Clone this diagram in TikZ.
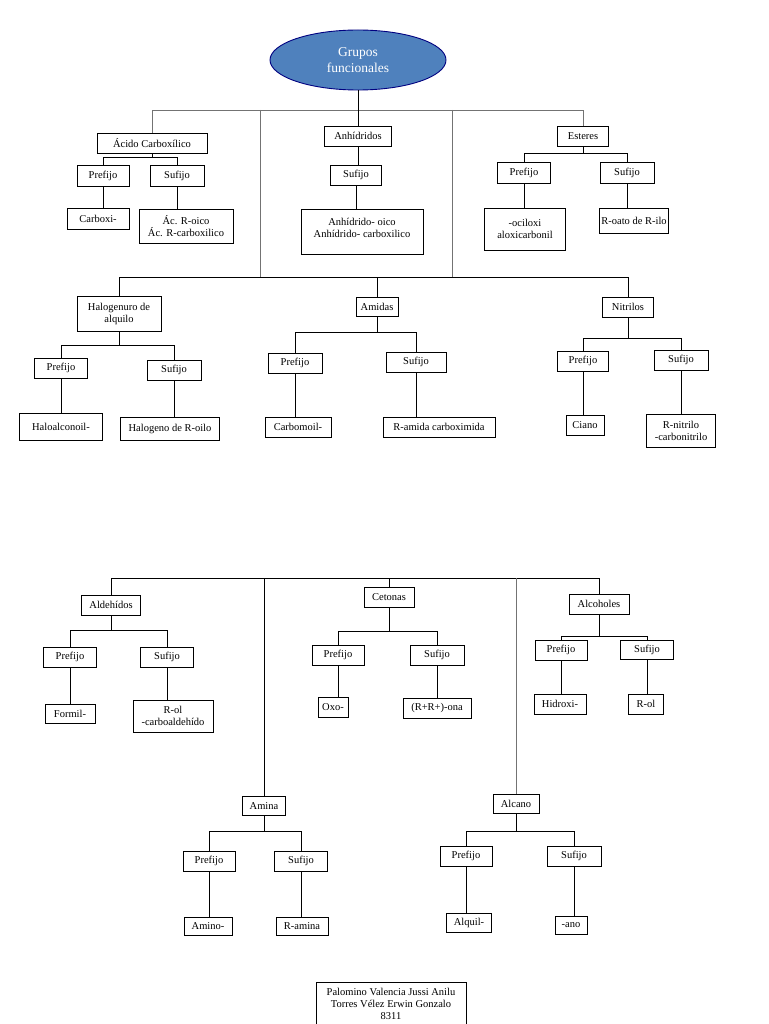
\documentclass[tikz,border=0pt]{standalone}
\usepackage{fontspec}
\setmainfont{Liberation Serif}
\usetikzlibrary{shapes.geometric}
\begin{document}
\begin{tikzpicture}[x=1pt,y=-1pt,
  bx/.style={draw,line width=0.9pt,inner sep=1pt,align=center,font=\fontsize{10.5}{12.5}\selectfont},
  ln/.style={line width=0.9pt},
  gl/.style={line width=0.9pt,draw=black!55}]
\useasboundingbox (0,0) rectangle (768,1024);
\newcommand\bxn[6]{\node[bx,minimum width=#4pt,minimum height=#5pt] (#1) at (#2,#3) {#6};}
% root
\node[ellipse,draw=blue!50!black,line width=0.9pt,fill={rgb,255:red,79;green,129;blue,189},minimum width=176pt,minimum height=60pt,text=white,align=center,font=\fontsize{13.5}{16}\selectfont] (root) at (358,60) {Grupos\\funcionales};
% tier 1
\bxn{acido}{152}{143}{110}{20}{Ácido Carboxílico}
\bxn{anh}{358}{136}{67}{20}{Anhídridos}
\bxn{est}{583}{136}{51}{20}{Esteres}
\bxn{acp}{103}{176}{52}{21}{Prefijo}
\bxn{acs}{177}{176}{54}{21}{Sufijo}
\bxn{acpt}{98}{219}{62}{21}{Carboxi-}
\bxn{acst}{186}{226}{94}{34}{Ác. R-oico\\Ác. R-carboxilico}
\bxn{ans}{356}{175}{51}{20}{Sufijo}
\node[bx,minimum width=122pt,minimum height=45pt,anchor=north] (anst) at (362,209) {};
\node[font=\fontsize{10.5}{12.5}\selectfont,align=center] at (362,228) {Anhídrido- oico\\Anhídrido- carboxilico};
\bxn{esp}{524}{173}{53}{21}{Prefijo}
\bxn{ess}{627}{173}{54}{21}{Sufijo}
\bxn{espt}{525}{229}{81}{42}{-ociloxi\\aloxicarbonil}
\bxn{esst}{634}{221}{69}{25}{R-oato de R-ilo}
\coordinate (t1) at (0,110);
\draw[ln] (root.south) -- (root.south|-t1);
\draw[gl] (acido.north) -- (acido.north|-t1) -- (est.north|-t1) -- (est.north);
\draw[ln] (anh.north) -- (anh.north|-t1);
\coordinate (g1) at (260,110); \coordinate (g2) at (452,110);
\coordinate (g1b) at (260,277); \coordinate (g2b) at (452,277);
\draw[gl] (g1) -- (g1b); \draw[gl] (g2) -- (g2b);
\coordinate (b1) at (0,157);
\draw[ln] (acido.south) -- (acido.south|-b1);
\draw[ln] (acp.north) -- (acp.north|-b1) -- (acs.north|-b1) -- (acs.north);
\draw[ln] (acp.south) -- (acp.south|-acpt.north);
\draw[ln] (acs.south) -- (acs.south|-acst.north);
\draw[ln] (anh.south) -- (anh.south|-ans.north);
\draw[ln] (ans.south) -- (ans.south|-anst.north);
\coordinate (b2) at (0,153);
\draw[ln] (est.south) -- (est.south|-b2);
\draw[ln] (esp.north) -- (esp.north|-b2) -- (ess.north|-b2) -- (ess.north);
\draw[ln] (esp.south) -- (esp.south|-espt.north);
\draw[ln] (ess.south) -- (ess.south|-esst.north);
% tier 2
\bxn{hal}{119}{314}{84}{35}{Halogenuro de\\alquilo}
\bxn{ami}{377}{307}{42}{19}{Amidas}
\bxn{nit}{628}{307}{51}{20}{Nitrilos}
\coordinate (t2) at (0,277);
\draw[ln] (hal.north) -- (hal.north|-t2) -- (nit.north|-t2) -- (nit.north);
\draw[ln] (ami.north) -- (ami.north|-t2);
\bxn{halp}{61}{368}{53}{20}{Prefijo}
\bxn{hals}{174}{370}{54}{20}{Sufijo}
\bxn{halpt}{61}{427}{83}{27}{Haloalconoil-}
\bxn{halst}{170}{429}{99}{23}{Halogeno de R-oilo}
\coordinate (b3) at (0,345);
\draw[ln] (hal.south) -- (hal.south|-b3);
\draw[ln] (halp.north) -- (halp.north|-b3) -- (hals.north|-b3) -- (hals.north);
\draw[ln] (halp.south) -- (halp.south|-halpt.north);
\draw[ln] (hals.south) -- (hals.south|-halst.north);
\bxn{amip}{295}{363}{54}{20}{Prefijo}
\bxn{amis}{416}{362}{60}{20}{Sufijo}
\bxn{amipt}{298}{427}{66}{20}{Carbomoil-}
\bxn{amist}{439}{427}{112}{20}{R-amida carboximida}
\coordinate (b4) at (0,332);
\draw[ln] (ami.south) -- (ami.south|-b4);
\draw[ln] (amip.north) -- (amip.north|-b4) -- (amis.north|-b4) -- (amis.north);
\draw[ln] (amip.south) -- (amip.south|-amipt.north);
\draw[ln] (amis.south) -- (amis.south|-amist.north);
\bxn{nitp}{583}{361}{51}{20}{Prefijo}
\bxn{nits}{681}{360}{54}{20}{Sufijo}
\bxn{nitpt}{585}{425}{38}{20}{Ciano}
\bxn{nitst}{681}{431}{69}{33}{R-nitrilo\\-carbonitrilo}
\coordinate (b5) at (0,338);
\draw[ln] (nit.south) -- (nit.south|-b5);
\draw[ln] (nitp.north) -- (nitp.north|-b5) -- (nits.north|-b5) -- (nits.north);
\draw[ln] (nitp.south) -- (nitp.south|-nitpt.north);
\draw[ln] (nits.south) -- (nits.south|-nitst.north);
% bottom tree
\bxn{ald}{111}{605}{59}{20}{Aldehídos}
\bxn{cet}{389}{597}{50}{20}{Cetonas}
\bxn{alc}{599}{604}{60}{20}{Alcoholes}
\bxn{amn}{264}{806}{43}{19}{Amina}
\bxn{alk}{516}{804}{46}{19}{Alcano}
\coordinate (t3) at (0,578);
\draw[ln] (ald.north) -- (ald.north|-t3) -- (alc.north|-t3) -- (alc.north);
\draw[ln] (cet.north) -- (cet.north|-t3);
\draw[ln] (amn.north) -- (amn.north|-t3);
\draw[gl] (alk.north) -- (alk.north|-t3);
\bxn{aldp}{70}{657}{53}{20}{Prefijo}
\bxn{alds}{167}{657}{53}{20}{Sufijo}
\bxn{aldpt}{70}{714}{50}{19}{Formil-}
\bxn{aldst}{173}{716}{80}{32}{R-ol\\-carboaldehído}
\coordinate (b6) at (0,630);
\draw[ln] (ald.south) -- (ald.south|-b6);
\draw[ln] (aldp.north) -- (aldp.north|-b6) -- (alds.north|-b6) -- (alds.north);
\draw[ln] (aldp.south) -- (aldp.south|-aldpt.north);
\draw[ln] (alds.south) -- (alds.south|-aldst.north);
\bxn{cetp}{338}{655}{52}{20}{Prefijo}
\bxn{cets}{437}{655}{54}{20}{Sufijo}
\bxn{cetpt}{333}{707}{30}{20}{Oxo-}
\bxn{cetst}{437}{708}{68}{20}{(R+R+)-ona}
\coordinate (b7) at (0,631);
\draw[ln] (cet.south) -- (cet.south|-b7);
\draw[ln] (cetp.north) -- (cetp.north|-b7) -- (cets.north|-b7) -- (cets.north);
\draw[ln] (cetp.south) -- (cetp.south|-cetpt.north);
\draw[ln] (cets.south) -- (cets.south|-cetst.north);
\bxn{alcp}{561}{650}{52}{20}{Prefijo}
\bxn{alcs}{647}{650}{53}{19}{Sufijo}
\bxn{alcpt}{560}{704}{52}{20}{Hidroxi-}
\bxn{alcst}{646}{704}{35}{20}{R-ol}
\coordinate (b8) at (0,636);
\draw[ln] (alc.south) -- (alc.south|-b8);
\draw[ln] (alcp.north) -- (alcp.north|-b8) -- (alcs.north|-b8) -- (alcs.north);
\draw[ln] (alcp.south) -- (alcp.south|-alcpt.north);
\draw[ln] (alcs.south) -- (alcs.south|-alcst.north);
\bxn{amnp}{209}{861}{52}{20}{Prefijo}
\bxn{amns}{301}{861}{53}{20}{Sufijo}
\bxn{amnpt}{208}{926}{48}{18}{Amino-}
\bxn{amnst}{302}{926}{52}{18}{R-amina}
\coordinate (b9) at (0,831);
\draw[ln] (amn.south) -- (amn.south|-b9);
\draw[ln] (amnp.north) -- (amnp.north|-b9) -- (amns.north|-b9) -- (amns.north);
\draw[ln] (amnp.south) -- (amnp.south|-amnpt.north);
\draw[ln] (amns.south) -- (amns.south|-amnst.north);
\bxn{alkp}{466}{856}{52}{20}{Prefijo}
\bxn{alks}{574}{856}{54}{20}{Sufijo}
\bxn{alkpt}{469}{923}{45}{19}{Alquil-}
\bxn{alkst}{571}{925}{32}{18}{-ano}
\coordinate (b10) at (0,831);
\draw[ln] (alk.south) -- (alk.south|-b10);
\draw[ln] (alkp.north) -- (alkp.north|-b10) -- (alks.north|-b10) -- (alks.north);
\draw[ln] (alkp.south) -- (alkp.south|-alkpt.north);
\draw[ln] (alks.south) -- (alks.south|-alkst.north);
% author
\node[bx,minimum width=150pt,minimum height=50pt,anchor=north] (auth) at (391,982) {};
\node[font=\fontsize{10.5}{12}\selectfont,align=center] at (391,1004) {Palomino Valencia Jussi Anilu\\Torres Vélez Erwin Gonzalo\\8311};
\end{tikzpicture}
\end{document}
